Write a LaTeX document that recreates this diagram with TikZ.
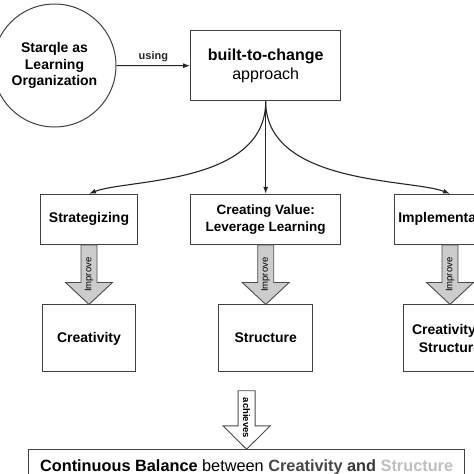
\documentclass[tikz,border=0pt]{standalone}
\usepackage{fontspec}
\setmainfont{Liberation Sans}
\usetikzlibrary{arrows.meta,calc}

\begin{document}
\begin{tikzpicture}[x=1pt,y=-1pt,
  box/.style={draw=black!75,line width=1pt,fill=white,inner sep=0pt,align=center},
  lbl/.style={font=\fontsize{14}{17.5}\selectfont\bfseries},
  conn/.style={-{Latex[length=7pt,width=5pt]},line width=1.1pt,black!85},
  blockarrow/.style={draw=black!70,line width=0.9pt,fill=black!20}]

\useasboundingbox (0,0) rectangle (474,474);
\clip (0,0) rectangle (474,474);

% top row
\node[box,circle,minimum size=123pt,font=\fontsize{14}{16.3}\selectfont\bfseries] (org) at (54.5,65.5) {Starqle as\\Learning\\Organization};
\node[box,minimum width=150pt,minimum height=70pt,font=\fontsize{16}{19}\selectfont] (btc) at (265.7,65.8) {\textbf{built-to-change}\\approach};

% middle row
\node[box,lbl,minimum width=96.6pt,minimum height=50pt] (strat) at (89,219.3) {Strategizing};
\node[box,minimum width=150pt,minimum height=50pt,font=\fontsize{13.5}{17}\selectfont\bfseries] (value) at (265.7,219.3) {Creating Value:\\Leverage Learning};
\node[box,lbl,minimum width=112pt,minimum height=50pt] (impl) at (450,219.3) {Implementation};

% lower row
\node[box,lbl,minimum width=93.6pt,minimum height=66.7pt,text height=10.5pt,text depth=3pt] (creat) at (89,338.3) {Creativity};
\node[box,lbl,minimum width=93.6pt,minimum height=66.7pt,text height=10.5pt,text depth=3pt] (struct) at (265.7,338.3) {Structure};
\node[box,lbl,minimum width=93.6pt,minimum height=66.7pt] (both) at (450,338.3) {Creativity +\\Structure};

\node[box,minimum width=436.7pt,minimum height=36pt,font=\fontsize{16.3}{19}\selectfont] (bal) at (246.6,467.7) {\textbf{Continuous Balance} between \textbf{\color{black!72}Creativity} \textbf{\color{black!78}and} \textbf{\color{black!25}Structure}};
\coordinate (ach) at (246.6,390.7);

\draw[conn] (org) -- node[above,font=\fontsize{11}{13}\selectfont\bfseries] (usinglbl) {using} (btc);
\draw[conn] (btc.south) -- (value.north);
\draw[conn] (btc.south) .. controls +(0,84) and +(38,-15) .. (strat.north);
\draw[conn] (btc.south) .. controls +(0,84) and +(-38,-15) .. (impl.north);

\foreach \a/\b in {strat/creat,value/struct,impl/both}{
  \draw[blockarrow] ($(\a.south)+(-8,0)$) -- ($(\b.north)+(-8,-22)$) -- ($(\b.north)+(-23.5,-22)$) -- (\b.north) -- ($(\b.north)+(23.5,-22)$) -- ($(\b.north)+(8,-22)$) -- ($(\a.south)+(8,0)$) -- cycle;
  \node[rotate=90,font=\fontsize{9.5}{11}\selectfont] (imp-\a) at ($(\a.south)+(0,30)$) {Improve};
}

\draw[blockarrow,fill=white] ($(ach)+(-8.5,0)$) -- ($(bal.north)+(-8.5,-23.3)$) -- ($(bal.north)+(-23.5,-23.3)$) -- (bal.north) -- ($(bal.north)+(23.5,-23.3)$) -- ($(bal.north)+(8.5,-23.3)$) -- ($(ach)+(8.5,0)$) -- cycle;
\node[rotate=-90,font=\fontsize{9.5}{11}\selectfont\bfseries] (achlbl) at ($(ach)+(0,27.3)$) {achieves};

\end{tikzpicture}
\end{document}
